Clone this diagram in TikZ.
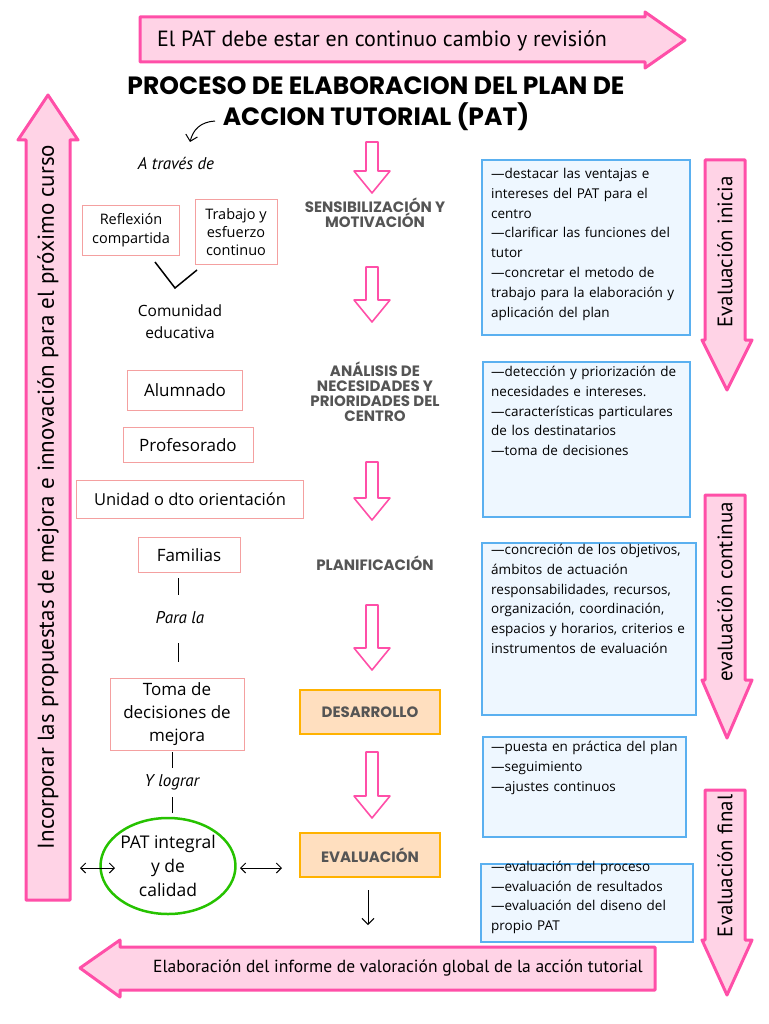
\documentclass[tikz,border=0pt]{standalone}
\usepackage{fontspec}
\setmainfont{Open Sans}
\newfontfamily\hand{PT Sans}
\newfontfamily\titf{Poppins}
\usetikzlibrary{arrows.meta,shapes.geometric}
\definecolor{mag}{HTML}{FF4FA8}
\definecolor{pk}{HTML}{FFD3E6}
\definecolor{bl}{HTML}{5AB0F0}
\definecolor{blf}{HTML}{EEF7FF}
\definecolor{rb}{HTML}{F4A0A0}
\definecolor{gr}{HTML}{555555}
\tikzset{
 big/.style={draw=mag,fill=pk,line width=3pt,line join=round},
 blue/.style={draw=bl,fill=blf,line width=1.5pt},
 rbox/.style={draw=rb,line width=0.8pt,align=center,font=\fontsize{17}{21}\selectfont},
 hollow/.style={draw=mag,fill=white,line width=1.6pt,line join=round},
 stp/.style={font=\titf\bfseries\fontsize{15}{15}\selectfont,text=gr,align=center},
 obox/.style={draw=orange!60!yellow,fill=orange!25,line width=1.2pt,minimum width=140pt,minimum height=44pt,font=\titf\bfseries\fontsize{15}{15}\selectfont,text=gr},
 btxt/.style={font=\fontsize{13.5}{19.8}\selectfont,execute at begin node={\hyphenpenalty=10000\relax},align=left,anchor=north west,text width=200pt,inner sep=0pt},
 ln/.style={line width=0.9pt},
 note/.style={font=\hand\itshape\fontsize{17}{17}\selectfont},
 vlab/.style={rotate=90,font=\hand\fontsize{21}{21}\selectfont}
}
\begin{document}
\begin{tikzpicture}[x=1pt,y=-1pt]
\useasboundingbox (0,0) rectangle (768,1024);
% top arrow
\draw[big] (140,17)--(645,17)--(645,12)--(685,40)--(645,68)--(645,62)--(140,62)--cycle;
\node[font=\hand\fontsize{22}{22}\selectfont] (top) at (382,41) {El PAT debe estar en continuo cambio y revisión};
% left arrow
\draw[big] (26,900)--(26,140)--(18,140)--(48,95)--(78,140)--(70,140)--(70,900)--cycle;
\node[rotate=90,font=\hand\fontsize{23}{23}\selectfont] (left) at (48,497) {Incorporar las propuestas de mejora e innovación para el próximo curso};
% bottom arrow
\draw[big] (655,947)--(120,947)--(120,940)--(80,968)--(120,997)--(120,990)--(655,990)--cycle;
\node[font=\hand\fontsize{17.5}{18}\selectfont] (bot) at (398,968) {Elaboración del informe de valoración global de la acción tutorial};
% right arrows
\draw[big] (705,160)--(745,160)--(745,340)--(752,340)--(727,390)--(702,340)--(705,340)--cycle;
\node[vlab] (r1) at (725,252) {Evaluación inicia};
\draw[big] (705,495)--(745,495)--(745,680)--(752,680)--(727,738)--(702,680)--(705,680)--cycle;
\node[vlab] (r2) at (725,592) {evaluación continua};
\draw[big] (705,790)--(745,790)--(745,940)--(752,940)--(727,995)--(702,940)--(705,940)--cycle;
\node[vlab] (r3) at (725,866) {Evaluación final};
% title
\node[font=\titf\bfseries\fontsize{25}{31}\selectfont,align=center] (title) at (376,104) {PROCESO DE ELABORACION DEL PLAN DE\\ACCION TUTORIAL (PAT)};
% blue boxes
\draw[blue] (482,160) rectangle (690,335);
\node[btxt] (b1) at (491,168) {—destacar las ventajas e intereses del PAT para el centro\\—clarificar las funciones del tutor\\—concretar el metodo de trabajo para la elaboración y aplicación del plan};
\draw[blue] (483,362) rectangle (690,517);
\node[btxt] (b2) at (491,366) {—detección y priorización de necesidades e intereses.\\—características particulares de los destinatarios\\—toma de decisiones};
\draw[blue] (482,543) rectangle (696,715);
\node[btxt] (b3) at (491,544) {—concreción de los objetivos, ámbitos de actuación responsabilidades, recursos, organización, coordinación, espacios y horarios, criterios e instrumentos de evaluación};
\draw[blue] (483,737) rectangle (686,837);
\node[btxt] (b4) at (491,741) {—puesta en práctica del plan\\—seguimiento\\—ajustes continuos};
\draw[blue] (481,864) rectangle (693,942);
\node[btxt,font=\fontsize{13.5}{19.5}\selectfont] (b5) at (491,861) {—evaluación del proceso\\—evaluación de resultados\\—evaluación del diseno del propio PAT};
% center steps
\node[stp] (s1) at (375,213) {SENSIBILIZACIÓN Y\\MOTIVACIÓN};
\node[stp] (s2) at (375,392) {ANÁLISIS DE\\NECESIDADES Y\\PRIORIDADES DEL\\CENTRO};
\node[stp] (s3) at (375,563) {PLANIFICACIÓN};
\node[obox] (s4) at (370,712) {DESARROLLO};
\node[obox] (s5) at (370,855) {EVALUACIÓN};
\foreach \a/\b in {142/193,267/322,462/520,605/670,752/818}{
 \draw[hollow] (366,\a)--(378,\a)--(378,\b-22)--(390,\b-22)--(372,\b)--(354,\b-22)--(366,\b-22)--cycle;}
\coordinate (e1) at (368,890); \coordinate (e2) at (368,925);
\draw[-{Straight Barb[length=6pt]},line width=1pt] (e1)--(e2);
% left column
\node[note] (atr) at (176,163) {A través de};
\coordinate (c1) at (215,121); \coordinate (c2) at (190,142);
\draw[-{Straight Barb[length=6pt]},line width=1pt] (c1) .. controls (200,122) and (193,130) .. (c2);
\node[rbox,minimum width=97pt,minimum height=50pt,font=\fontsize{14.5}{19}\selectfont] (ref) at (131,230) {Reflexión\\compartida};
\node[rbox,minimum width=82pt,minimum height=65pt,font=\fontsize{14.5}{18}\selectfont] (tra) at (236,232) {Trabajo y\\esfuerzo\\continuo};
\coordinate (v1) at (155,262); \coordinate (v2) at (175,288); \coordinate (v3) at (197,270);
\draw[line width=1.5pt] (v1)--(v2)--(v3);
\node[font=\fontsize{15.5}{22}\selectfont,align=center] (com) at (180,322) {Comunidad\\educativa};
\node[rbox,minimum width=115pt,minimum height=40pt] (alu) at (185,390) {Alumnado};
\node[rbox,minimum width=130pt,minimum height=35pt] (pro) at (188,445) {Profesorado};
\node[rbox,minimum width=227pt,minimum height=38pt,font=\fontsize{16.5}{16}\selectfont] (uni) at (190,499) {Unidad o dto orientación};
\node[rbox,minimum width=102pt,minimum height=35pt] (fam) at (189,555) {Familias};
\node[note] (para) at (180,618) {Para la};
\node[rbox,minimum width=134pt,minimum height=72pt,font=\fontsize{17}{23}\selectfont] (toma) at (177,714) {Toma de\\decisiones de\\mejora};
\node[note] (ylo) at (172,782) {Y lograr};
\draw[ln] (178,578)--(178,595); \draw[ln] (178,643)--(178,662);
\draw[ln] (172,752)--(172,768); \draw[ln] (172,797)--(172,813);
\node[draw=green!70!black!80!lime,line width=2.5pt,ellipse,minimum width=124pt,minimum height=96pt,inner sep=0pt,align=center,font=\fontsize{17.5}{24}\selectfont] (pat) at (168,866) {PAT integral\\y de\\calidad};
\coordinate (d1) at (80,868); \coordinate (d2) at (115,868);
\coordinate (d3) at (240,868); \coordinate (d4) at (282,868);
\draw[{Straight Barb[length=5pt]}-{Straight Barb[length=5pt]},line width=1pt] (d1)--(d2);
\draw[{Straight Barb[length=5pt]}-{Straight Barb[length=5pt]},line width=1pt] (d3)--(d4);
\end{tikzpicture}
\end{document}
